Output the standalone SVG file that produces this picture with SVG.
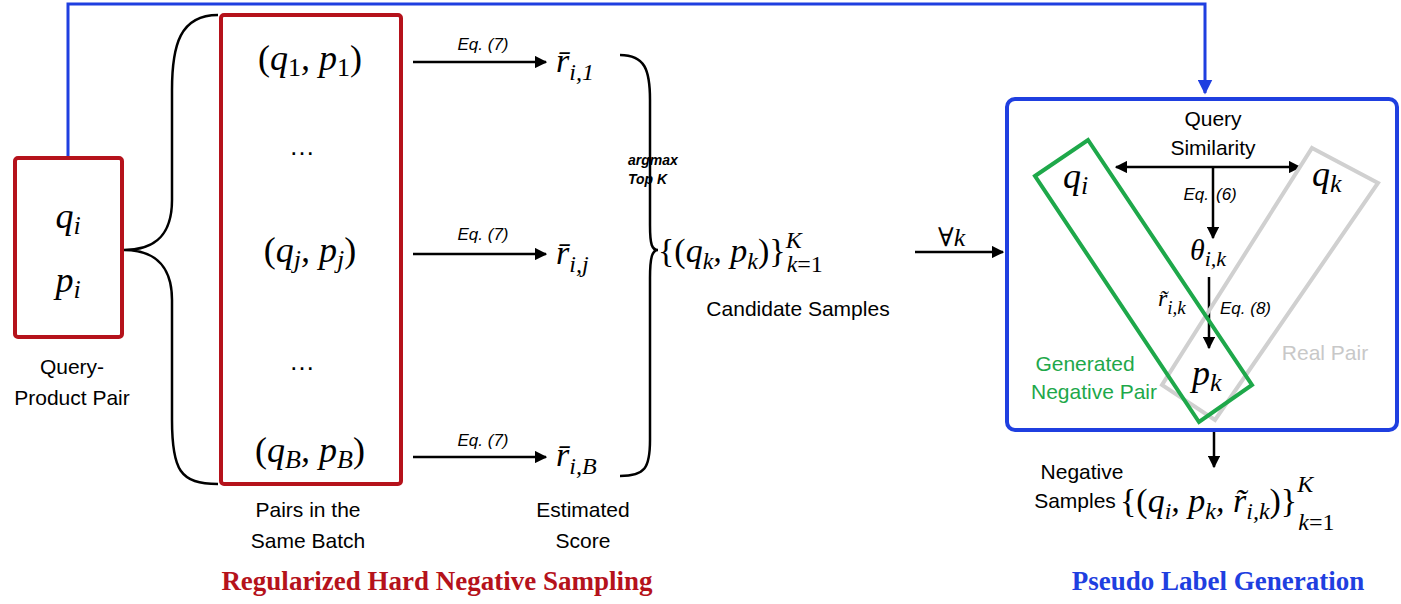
<svg xmlns="http://www.w3.org/2000/svg" width="1401" height="604" viewBox="0 0 1401 604">
<defs>
<marker id="ah" viewBox="0 0 10 10" refX="9" refY="5" markerWidth="5" markerHeight="5" orient="auto-start-reverse"><path d="M0,0 L10,5 L0,10 z" fill="#000"/></marker>
<marker id="ahb" viewBox="0 0 10 10" refX="9" refY="5" markerWidth="5" markerHeight="5" orient="auto"><path d="M0,0 L10,5 L0,10 z" fill="#1f3fe0"/></marker>
</defs>
<style>
text{font-family:"Liberation Sans",Arial,sans-serif;fill:#000}
.m{font-family:"Liberation Serif","DejaVu Serif",serif;font-style:italic}
.s{font-size:21px}
.eq{font-size:17px;font-style:italic}
.ln{stroke:#000;stroke-width:2.5;fill:none}
.red{fill:none;stroke:#b5121b;stroke-width:4}
</style>
<g id="connectors">
<path d="M68,158 V4 H1205 V93" fill="none" stroke="#1f3fe0" stroke-width="3" marker-end="url(#ahb)"/>
<path class="ln" d="M218,15 C180,15 172,45 172,90 V200 C172,240 150,250 124,250 C150,250 172,262 172,300 V420 C172,470 180,484 218,484"/>
<path class="ln" d="M620,55 C645,55 650,70 650,100 V225 C650,245 652,250 658,250 C652,250 650,258 650,278 V440 C650,468 645,476 620,476"/>
<line class="ln" x1="413" y1="62" x2="546" y2="62" marker-end="url(#ah)"/>
<line class="ln" x1="413" y1="254" x2="546" y2="254" marker-end="url(#ah)"/>
<line class="ln" x1="413" y1="457" x2="546" y2="457" marker-end="url(#ah)"/>
<line class="ln" x1="915" y1="252" x2="1003" y2="252" marker-end="url(#ah)"/>
<line class="ln" x1="1116" y1="167" x2="1300" y2="167" marker-start="url(#ah)" marker-end="url(#ah)"/>
<line class="ln" x1="1213" y1="167" x2="1213" y2="238" marker-end="url(#ah)"/>
<line class="ln" x1="1209" y1="277" x2="1209" y2="348" marker-end="url(#ah)"/>
<line class="ln" x1="1214" y1="430" x2="1214" y2="467" marker-end="url(#ah)"/>
</g>
<g id="query-product-pair">
<rect class="red" x="15" y="158" width="107" height="179" rx="3"/>
<text class="m" x="68" y="228" font-size="36" text-anchor="middle">q<tspan font-size="26" dy="6">i</tspan></text>
<text class="m" x="68" y="292" font-size="36" text-anchor="middle">p<tspan font-size="26" dy="6">i</tspan></text>
<text class="s" x="72" y="374" text-anchor="middle">Query-</text>
<text class="s" x="72" y="405" text-anchor="middle">Product Pair</text>
</g>
<g id="batch">
<rect class="red" x="221" y="15" width="180" height="469" rx="3"/>
<text class="m" x="310" y="70" font-size="36" text-anchor="middle"><tspan font-style="normal">(</tspan>q<tspan font-size="26" font-style="normal" dy="6">1</tspan><tspan dy="-6">, p</tspan><tspan font-size="26" font-style="normal" dy="6">1</tspan><tspan font-style="normal" dy="-6">)</tspan></text>
<text x="302" y="155" font-size="26" text-anchor="middle">…</text>
<text class="m" x="310" y="262" font-size="36" text-anchor="middle"><tspan font-style="normal">(</tspan>q<tspan font-size="26" dy="6">j</tspan><tspan dy="-6">, p</tspan><tspan font-size="26" dy="6">j</tspan><tspan font-style="normal" dy="-6">)</tspan></text>
<text x="302" y="370" font-size="26" text-anchor="middle">…</text>
<text class="m" x="310" y="462" font-size="36" text-anchor="middle"><tspan font-style="normal">(</tspan>q<tspan font-size="26" dy="6">B</tspan><tspan dy="-6">, p</tspan><tspan font-size="26" dy="6">B</tspan><tspan font-style="normal" dy="-6">)</tspan></text>
<text class="s" x="308" y="517" text-anchor="middle">Pairs in the</text>
<text class="s" x="308" y="548" text-anchor="middle">Same Batch</text>
</g>
<g id="scores">
<text class="eq" x="483" y="50" text-anchor="middle">Eq. (7)</text>
<text class="eq" x="483" y="240" text-anchor="middle">Eq. (7)</text>
<text class="eq" x="483" y="446" text-anchor="middle">Eq. (7)</text>
<text class="m" x="556" y="72" font-size="34">r̄<tspan font-size="24" dy="8">i,1</tspan></text>
<text class="m" x="556" y="264" font-size="34">r̄<tspan font-size="24" dy="8">i,j</tspan></text>
<text class="m" x="556" y="466" font-size="34">r̄<tspan font-size="24" dy="8">i,B</tspan></text>
<text class="s" x="583" y="517" text-anchor="middle">Estimated</text>
<text class="s" x="583" y="548" text-anchor="middle">Score</text>
</g>
<g id="candidates">
<text x="628" y="165" font-size="14" font-weight="bold" font-style="italic">argmax</text>
<text x="628" y="184" font-size="14" font-weight="bold" font-style="italic">Top K</text>
<text class="m" x="658" y="262" font-size="34"><tspan font-style="normal">{(</tspan>q<tspan font-size="24" dy="7">k</tspan><tspan dy="-7">, p</tspan><tspan font-size="24" dy="7">k</tspan><tspan font-style="normal" dy="-7">)}</tspan><tspan font-size="24" dy="-14">K</tspan><tspan font-size="24" dx="-15" dy="24">k<tspan font-style="normal">=1</tspan></tspan></text>
<text class="s" x="798" y="316" text-anchor="middle">Candidate Samples</text>
<text class="m" x="938" y="246" font-size="26"><tspan font-style="normal">∀</tspan>k</text>
</g>
<g id="pseudo-label">
<rect x="1007" y="99" width="390" height="331" rx="8" fill="none" stroke="#1f3fe0" stroke-width="4"/>
<polygon points="1312,148 1378,183 1215,420 1162,385" fill="none" stroke="#d0d0d0" stroke-width="4"/>
<polygon points="1035,176 1088,140 1252,385 1199,422" fill="none" stroke="#1ea84a" stroke-width="4"/>
<text class="s" x="1213" y="126" text-anchor="middle">Query</text>
<text class="s" x="1213" y="155" text-anchor="middle">Similarity</text>
<text class="m" x="1063" y="188" font-size="36">q<tspan font-size="26" dy="6">i</tspan></text>
<text class="m" x="1312" y="186" font-size="36">q<tspan font-size="26" dy="6">k</tspan></text>
<text class="eq" x="1209" y="200" font-size="19" text-anchor="end">Eq.</text>
<text class="eq" x="1216" y="200" font-size="19">(6)</text>
<text class="m" x="1190" y="260" font-size="30">θ<tspan font-size="22" dy="6">i,k</tspan></text>
<text class="m" x="1158" y="306" font-size="24">r̃<tspan font-size="19" dy="8">i,k</tspan></text>
<text class="eq" x="1220" y="314" font-size="19">Eq. (8)</text>
<text class="m" x="1192" y="385" font-size="36">p<tspan font-size="26" dy="6">k</tspan></text>
<text class="s" x="1325" y="360" text-anchor="middle" style="fill:#c8c8c8">Real Pair</text>
<text class="s" x="1085" y="371" text-anchor="middle" style="fill:#1ea84a">Generated</text>
<text class="s" x="1094" y="399" text-anchor="middle" style="fill:#1ea84a">Negative Pair</text>
</g>
<g id="negative-samples">
<text class="s" x="1082" y="479" text-anchor="middle">Negative</text>
<text class="s" x="1075" y="508" text-anchor="middle">Samples</text>
<text class="m" x="1120" y="512" font-size="34"><tspan font-style="normal">{(</tspan>q<tspan font-size="24" dy="7">i</tspan><tspan dy="-7">, p</tspan><tspan font-size="24" dy="7">k</tspan><tspan dy="-7">, r̃</tspan><tspan font-size="24" dy="7">i,k</tspan><tspan font-style="normal" dy="-7">)}</tspan><tspan font-size="24" dy="-20">K</tspan><tspan font-size="24" dx="-15" dy="38">k<tspan font-style="normal">=1</tspan></tspan></text>
</g>
<g id="titles">
<text x="437" y="590" font-size="27" font-weight="bold" text-anchor="middle" style="font-family:'Liberation Serif',serif;fill:#b5121b">Regularized Hard Negative Sampling</text>
<text x="1218" y="590" font-size="27" font-weight="bold" text-anchor="middle" style="font-family:'Liberation Serif',serif;fill:#1f3fe0">Pseudo Label Generation</text>
</g>
</svg>
